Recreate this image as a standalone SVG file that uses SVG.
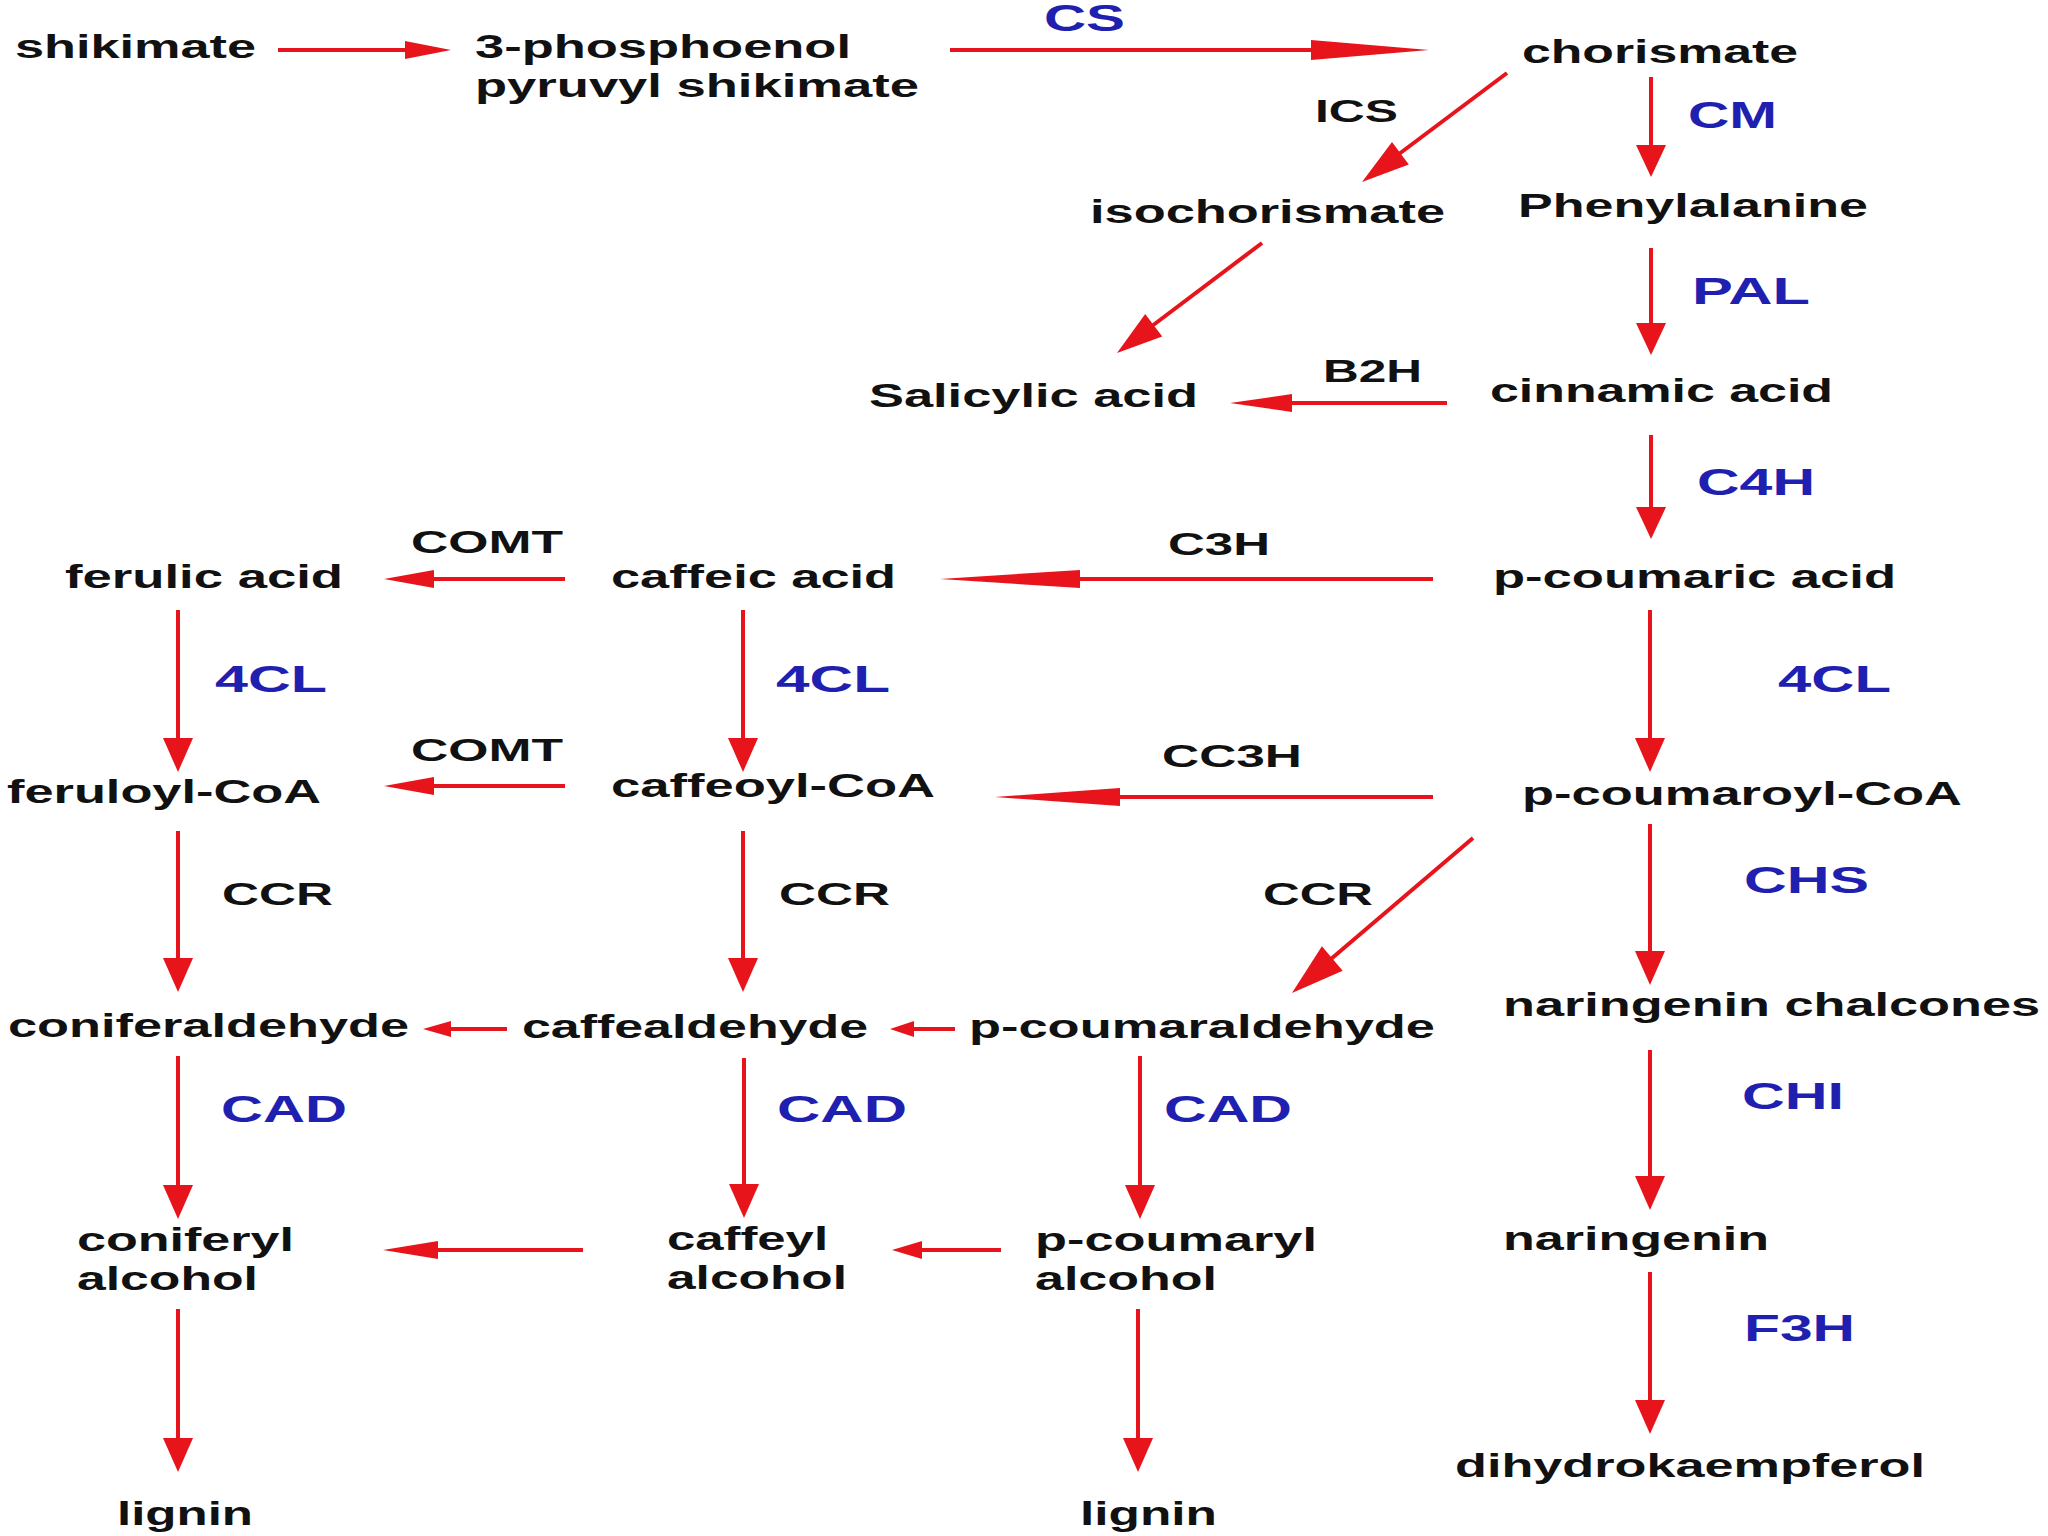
<svg xmlns="http://www.w3.org/2000/svg" width="2048" height="1536" viewBox="0 0 2048 1536">
<style>
text{font-family:"Liberation Sans",Arial,sans-serif;font-weight:bold}
.n{font-size:33px;fill:#111}
.e{font-size:31px;fill:#111}
.b{font-size:37px;fill:#1f1fb0}
.ln{stroke:#e8141c;stroke-width:4;fill:none}
.hd{fill:#e8141c;stroke:none}
</style>
<rect width="2048" height="1536" fill="#fff"/>
<g id="connectors">
<line class="ln" x1="278" y1="50" x2="407" y2="50"/><polygon class="hd" points="405,41 451,50 405,59"/>
<line class="ln" x1="950" y1="50" x2="1313" y2="50"/><polygon class="hd" points="1311,40 1429,50 1311,60"/>
<line class="ln" x1="1447" y1="403" x2="1290" y2="403"/><polygon class="hd" points="1292,394 1230,403 1292,412"/>
<line class="ln" x1="565" y1="579" x2="432" y2="579"/><polygon class="hd" points="434,570 384,579 434,588"/>
<line class="ln" x1="1433" y1="579" x2="1078" y2="579"/><polygon class="hd" points="1080,570 940,579 1080,588"/>
<line class="ln" x1="565" y1="786" x2="432" y2="786"/><polygon class="hd" points="434,777 384,786 434,795"/>
<line class="ln" x1="1433" y1="797" x2="1118" y2="797"/><polygon class="hd" points="1120,788 995,797 1120,806"/>
<line class="ln" x1="507" y1="1029" x2="449" y2="1029"/><polygon class="hd" points="451,1021 423,1029 451,1037"/>
<line class="ln" x1="955" y1="1029" x2="912" y2="1029"/><polygon class="hd" points="914,1021 890,1029 914,1037"/>
<line class="ln" x1="583" y1="1250" x2="436" y2="1250"/><polygon class="hd" points="438,1241 383,1250 438,1259"/>
<line class="ln" x1="1001" y1="1250" x2="920" y2="1250"/><polygon class="hd" points="922,1241 892,1250 922,1259"/>
<line class="ln" x1="1651" y1="77" x2="1651" y2="147"/><polygon class="hd" points="1636,145 1651,177 1666,145"/>
<line class="ln" x1="1651" y1="248" x2="1651" y2="325"/><polygon class="hd" points="1636,323 1651,355 1666,323"/>
<line class="ln" x1="1651" y1="435" x2="1651" y2="509"/><polygon class="hd" points="1636,507 1651,539 1666,507"/>
<line class="ln" x1="1650" y1="610" x2="1650" y2="740"/><polygon class="hd" points="1635,738 1650,772 1665,738"/>
<line class="ln" x1="1650" y1="824" x2="1650" y2="953"/><polygon class="hd" points="1635,951 1650,985 1665,951"/>
<line class="ln" x1="1650" y1="1050" x2="1650" y2="1178"/><polygon class="hd" points="1635,1176 1650,1210 1665,1176"/>
<line class="ln" x1="1650" y1="1272" x2="1650" y2="1402"/><polygon class="hd" points="1635,1400 1650,1434 1665,1400"/>
<line class="ln" x1="178" y1="610" x2="178" y2="740"/><polygon class="hd" points="163,738 178,772 193,738"/>
<line class="ln" x1="743" y1="610" x2="743" y2="740"/><polygon class="hd" points="728,738 743,772 758,738"/>
<line class="ln" x1="178" y1="831" x2="178" y2="960"/><polygon class="hd" points="163,958 178,992 193,958"/>
<line class="ln" x1="743" y1="831" x2="743" y2="960"/><polygon class="hd" points="728,958 743,992 758,958"/>
<line class="ln" x1="178" y1="1056" x2="178" y2="1187"/><polygon class="hd" points="163,1185 178,1219 193,1185"/>
<line class="ln" x1="744" y1="1058" x2="744" y2="1186"/><polygon class="hd" points="729,1184 744,1218 759,1184"/>
<line class="ln" x1="1140" y1="1056" x2="1140" y2="1187"/><polygon class="hd" points="1125,1185 1140,1219 1155,1185"/>
<line class="ln" x1="178" y1="1309" x2="178" y2="1440"/><polygon class="hd" points="163,1438 178,1472 193,1438"/>
<line class="ln" x1="1138" y1="1309" x2="1138" y2="1440"/><polygon class="hd" points="1123,1438 1138,1472 1153,1438"/>
<line class="ln" x1="1507" y1="73" x2="1399" y2="154"/><polygon class="hd" points="1408.8,164.4 1362,182 1392,142"/>
<line class="ln" x1="1262" y1="243" x2="1152" y2="326"/><polygon class="hd" points="1162.2,336.4 1117,353 1145.2,314"/>
<line class="ln" x1="1473" y1="838" x2="1331" y2="959"/><polygon class="hd" points="1342.7,970.7 1292,993 1321.9,946.3"/>
</g>
<g id="n-shikimate"><text class="n" x="15" y="58" textLength="241" lengthAdjust="spacingAndGlyphs">shikimate</text></g>
<g id="n-3p"><text class="n" x="475" y="58" textLength="376" lengthAdjust="spacingAndGlyphs">3-phosphoenol</text><text class="n" x="475" y="97" textLength="444" lengthAdjust="spacingAndGlyphs">pyruvyl shikimate</text></g>
<g id="n-chorismate"><text class="n" x="1522" y="63" textLength="276" lengthAdjust="spacingAndGlyphs">chorismate</text></g>
<g id="n-isochorismate"><text class="n" x="1090" y="223" textLength="355" lengthAdjust="spacingAndGlyphs">isochorismate</text></g>
<g id="n-phenylalanine"><text class="n" x="1518" y="217" textLength="350" lengthAdjust="spacingAndGlyphs">Phenylalanine</text></g>
<g id="n-salicylic"><text class="n" x="869" y="407" textLength="329" lengthAdjust="spacingAndGlyphs">Salicylic acid</text></g>
<g id="n-cinnamic"><text class="n" x="1490" y="402" textLength="343" lengthAdjust="spacingAndGlyphs">cinnamic acid</text></g>
<g id="n-ferulic"><text class="n" x="65" y="588" textLength="278" lengthAdjust="spacingAndGlyphs">ferulic acid</text></g>
<g id="n-caffeic"><text class="n" x="611" y="588" textLength="285" lengthAdjust="spacingAndGlyphs">caffeic acid</text></g>
<g id="n-pcoumaric"><text class="n" x="1493" y="588" textLength="403" lengthAdjust="spacingAndGlyphs">p-coumaric acid</text></g>
<g id="n-feruloylcoa"><text class="n" x="7" y="803" textLength="314" lengthAdjust="spacingAndGlyphs">feruloyl-CoA</text></g>
<g id="n-caffeoylcoa"><text class="n" x="611" y="797" textLength="324" lengthAdjust="spacingAndGlyphs">caffeoyl-CoA</text></g>
<g id="n-pcoumaroylcoa"><text class="n" x="1522" y="805" textLength="440" lengthAdjust="spacingAndGlyphs">p-coumaroyl-CoA</text></g>
<g id="n-coniferaldehyde"><text class="n" x="8" y="1037" textLength="401" lengthAdjust="spacingAndGlyphs">coniferaldehyde</text></g>
<g id="n-caffealdehyde"><text class="n" x="522" y="1038" textLength="346" lengthAdjust="spacingAndGlyphs">caffealdehyde</text></g>
<g id="n-pcoumaraldehyde"><text class="n" x="969" y="1038" textLength="466" lengthAdjust="spacingAndGlyphs">p-coumaraldehyde</text></g>
<g id="n-chalcones"><text class="n" x="1503" y="1016" textLength="537" lengthAdjust="spacingAndGlyphs">naringenin chalcones</text></g>
<g id="n-coniferyl"><text class="n" x="77" y="1251" textLength="217" lengthAdjust="spacingAndGlyphs">coniferyl</text><text class="n" x="77" y="1290" textLength="181" lengthAdjust="spacingAndGlyphs">alcohol</text></g>
<g id="n-caffeyl"><text class="n" x="667" y="1250" textLength="161" lengthAdjust="spacingAndGlyphs">caffeyl</text><text class="n" x="667" y="1289" textLength="180" lengthAdjust="spacingAndGlyphs">alcohol</text></g>
<g id="n-pcoumaryl"><text class="n" x="1035" y="1251" textLength="282" lengthAdjust="spacingAndGlyphs">p-coumaryl</text><text class="n" x="1035" y="1290" textLength="182" lengthAdjust="spacingAndGlyphs">alcohol</text></g>
<g id="n-naringenin"><text class="n" x="1503" y="1250" textLength="266" lengthAdjust="spacingAndGlyphs">naringenin</text></g>
<g id="n-dihydrokaempferol"><text class="n" x="1455" y="1477" textLength="470" lengthAdjust="spacingAndGlyphs">dihydrokaempferol</text></g>
<g id="n-lignin1"><text class="n" x="117" y="1525" textLength="136" lengthAdjust="spacingAndGlyphs">lignin</text></g>
<g id="n-lignin2"><text class="n" x="1080" y="1525" textLength="137" lengthAdjust="spacingAndGlyphs">lignin</text></g>
<g id="labels">
<text class="b" x="1044" y="31" textLength="81" lengthAdjust="spacingAndGlyphs">CS</text>
<text class="e" x="1315" y="122" textLength="83" lengthAdjust="spacingAndGlyphs">ICS</text>
<text class="b" x="1688" y="128" textLength="89" lengthAdjust="spacingAndGlyphs">CM</text>
<text class="b" x="1692" y="304" textLength="118" lengthAdjust="spacingAndGlyphs">PAL</text>
<text class="e" x="1323" y="382" textLength="99" lengthAdjust="spacingAndGlyphs">B2H</text>
<text class="b" x="1697" y="495" textLength="118" lengthAdjust="spacingAndGlyphs">C4H</text>
<text class="e" x="411" y="553" textLength="152" lengthAdjust="spacingAndGlyphs">COMT</text>
<text class="e" x="1168" y="555" textLength="102" lengthAdjust="spacingAndGlyphs">C3H</text>
<text class="b" x="215" y="692" textLength="112" lengthAdjust="spacingAndGlyphs">4CL</text>
<text class="b" x="776" y="692" textLength="114" lengthAdjust="spacingAndGlyphs">4CL</text>
<text class="b" x="1778" y="692" textLength="113" lengthAdjust="spacingAndGlyphs">4CL</text>
<text class="e" x="411" y="761" textLength="152" lengthAdjust="spacingAndGlyphs">COMT</text>
<text class="e" x="1162" y="767" textLength="140" lengthAdjust="spacingAndGlyphs">CC3H</text>
<text class="e" x="222" y="905" textLength="111" lengthAdjust="spacingAndGlyphs">CCR</text>
<text class="e" x="779" y="905" textLength="111" lengthAdjust="spacingAndGlyphs">CCR</text>
<text class="e" x="1263" y="905" textLength="110" lengthAdjust="spacingAndGlyphs">CCR</text>
<text class="b" x="1744" y="893" textLength="125" lengthAdjust="spacingAndGlyphs">CHS</text>
<text class="b" x="221" y="1122" textLength="126" lengthAdjust="spacingAndGlyphs">CAD</text>
<text class="b" x="777" y="1122" textLength="130" lengthAdjust="spacingAndGlyphs">CAD</text>
<text class="b" x="1164" y="1122" textLength="128" lengthAdjust="spacingAndGlyphs">CAD</text>
<text class="b" x="1742" y="1109" textLength="102" lengthAdjust="spacingAndGlyphs">CHI</text>
<text class="b" x="1744" y="1341" textLength="111" lengthAdjust="spacingAndGlyphs">F3H</text>
</g>
</svg>
